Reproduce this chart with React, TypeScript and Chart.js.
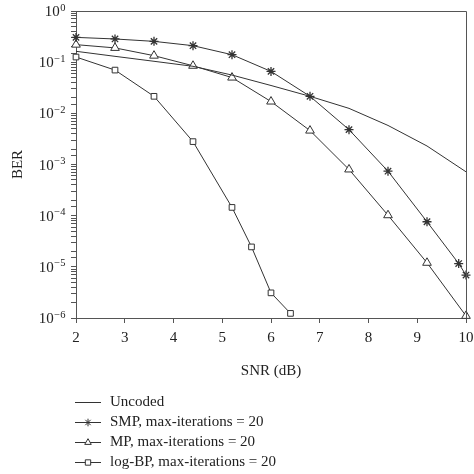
import React, { useEffect, useRef } from 'react';
import { Chart, registerables } from 'chart.js';
Chart.register(...registerables);

const snr = [2, 2.8, 3.6, 4.4, 5.2, 6, 6.8, 7.6, 8.4, 9.2, 10];
const uncoded = [0.163, 0.13, 0.104, 0.083, 0.056, 0.035, 0.0215, 0.0125, 0.0058, 0.0023, 0.00072];
const smpSnr = [2, 2.8, 3.6, 4.4, 5.2, 6, 6.8, 7.6, 8.4, 9.2, 9.85, 10];
const smp = [0.305, 0.284, 0.255, 0.21, 0.14, 0.066, 0.0215, 0.0048, 0.00074, 0.000076, 0.0000116, 0.0000069];
const mpSnr = [2, 2.8, 3.6, 4.4, 5.2, 6, 6.8, 7.6, 8.4, 9.2, 10];
const mp = [0.22, 0.19, 0.134, 0.085, 0.05, 0.017, 0.0046, 0.0008, 0.000102, 0.000012, 0.0000011];
const logBpSnr = [2, 2.8, 3.6, 4.4, 5.2, 5.6, 6, 6.4];
const logBp = [0.126, 0.07, 0.0215, 0.0028, 0.000145, 0.0000245, 0.0000031, 0.00000123];

const seriesNames = ['Uncoded', 'SMP, max-iterations = 20', 'MP, max-iterations = 20', 'log-BP, max-iterations = 20'];
const seriesMarkers = ['none', 'star', 'triangle', 'rect'];
const xTicks = [2, 3, 4, 5, 6, 7, 8, 9, 10];
const yExponents = [0, -1, -2, -3, -4, -5, -6];
const xTitle = 'SNR (dB)';
const yTitle = 'BER';

const LINE = '#333333';
const AXIS = '#555555';
const TEXT = '#222222';
const FONT = "'Liberation Serif', 'DejaVu Serif', serif";

function pts(xs: number[], ys: number[]) {
  return xs.map((x, i) => ({ x, y: ys[i] }));
}

function drawMarker(ctx: CanvasRenderingContext2D, style: string, x: number, y: number, r: number) {
  ctx.beginPath();
  if (style === 'star') {
    ctx.moveTo(x - r, y); ctx.lineTo(x + r, y);
    ctx.moveTo(x, y - r); ctx.lineTo(x, y + r);
    const d = r * Math.SQRT1_2;
    ctx.moveTo(x - d, y - d); ctx.lineTo(x + d, y + d);
    ctx.moveTo(x - d, y + d); ctx.lineTo(x + d, y - d);
    ctx.stroke();
  } else if (style === 'triangle') {
    let a = 0;
    ctx.moveTo(x + Math.sin(a) * r, y - Math.cos(a) * r);
    a += (2 * Math.PI) / 3;
    ctx.lineTo(x + Math.sin(a) * r, y - Math.cos(a) * r);
    a += (2 * Math.PI) / 3;
    ctx.lineTo(x + Math.sin(a) * r, y - Math.cos(a) * r);
    ctx.closePath();
    ctx.fill();
    ctx.stroke();
  } else if (style === 'rect') {
    const s = r * Math.SQRT1_2;
    ctx.rect(x - s, y - s, 2 * s, 2 * s);
    ctx.fill();
    ctx.stroke();
  }
}

const framePlugin = {
  id: 'frame',
  afterDraw(chart: any) {
    const { ctx, chartArea } = chart;
    ctx.save();
    ctx.strokeStyle = AXIS;
    ctx.lineWidth = 1;
    ctx.beginPath();
    ctx.moveTo(chartArea.left, chartArea.top + 0.5);
    ctx.lineTo(chartArea.right + 0.5, chartArea.top + 0.5);
    ctx.lineTo(chartArea.right + 0.5, chartArea.bottom);
    ctx.stroke();
    ctx.restore();
  },
};

const yLabelPlugin = {
  id: 'yPowLabels',
  afterDraw(chart: any) {
    const { ctx } = chart;
    const scale = chart.scales.y;
    const right = scale.right - 11;
    ctx.save();
    ctx.fillStyle = TEXT;
    ctx.textBaseline = 'alphabetic';
    ctx.textAlign = 'left';
    yExponents.forEach((e) => {
      const y = scale.getPixelForValue(Math.pow(10, e));
      const exp = e === 0 ? '0' : '\u2212' + String(-e);
      ctx.font = `10.5px ${FONT}`;
      const ew = ctx.measureText(exp).width;
      ctx.font = `15px ${FONT}`;
      const bw = ctx.measureText('10').width;
      const x0 = right - ew - bw;
      const base = y + 5;
      ctx.fillText('10', x0, base);
      ctx.font = `10.5px ${FONT}`;
      ctx.fillText(exp, x0 + bw + 0.5, base - 5.5);
    });
    ctx.restore();
  },
};

const legendPlugin = {
  id: 'customLegend',
  afterDraw(chart: any) {
    const { ctx } = chart;
    ctx.save();
    ctx.font = `15px ${FONT}`;
    ctx.textBaseline = 'middle';
    ctx.textAlign = 'left';
    seriesNames.forEach((name, i) => {
      const y = 402 + i * 20;
      ctx.strokeStyle = LINE;
      ctx.fillStyle = '#ffffff';
      ctx.lineWidth = 1;
      ctx.beginPath();
      ctx.moveTo(75, y + 0.5);
      ctx.lineTo(101, y + 0.5);
      ctx.stroke();
      drawMarker(ctx, seriesMarkers[i], 88, y + 0.5, 3.8);
      ctx.fillStyle = TEXT;
      ctx.fillText(name, 110, y);
    });
    ctx.restore();
  },
};

export default function App() {
  const ref = useRef<HTMLCanvasElement>(null);
  useEffect(() => {
    if (!ref.current) return;
    const common = { borderColor: LINE, borderWidth: 1, pointBorderColor: LINE, pointBackgroundColor: '#ffffff', pointBorderWidth: 1, tension: 0 };
    const chart = new Chart(ref.current, {
      type: 'line',
      data: {
        datasets: [
          { ...common, label: seriesNames[0], data: pts(snr, uncoded), pointRadius: 0 },
          { ...common, label: seriesNames[1], data: pts(smpSnr, smp), pointStyle: 'star', pointRadius: 4.5, pointBorderWidth: 1.3 },
          { ...common, label: seriesNames[2], data: pts(mpSnr, mp), pointStyle: 'triangle', pointRadius: 5 },
          { ...common, label: seriesNames[3], data: pts(logBpSnr, logBp), pointStyle: 'rect', pointRadius: 4 },
        ],
      },
      options: {
        animation: false,
        responsive: false,
        clip: false,
        layout: { padding: { left: 0, right: 8, top: 11, bottom: 94 } },
        plugins: { legend: { display: false }, tooltip: { enabled: false } },
        scales: {
          x: {
            type: 'linear',
            min: 2,
            max: 10,
            afterBuildTicks: (s: any) => { s.ticks = xTicks.map((v) => ({ value: v })); },
            ticks: { color: TEXT, font: { family: FONT, size: 15 }, padding: 6, maxRotation: 0 },
            grid: { drawOnChartArea: false, tickLength: 5, color: AXIS },
            border: { color: AXIS, width: 1 },
            title: { display: true, text: xTitle, color: TEXT, font: { family: FONT, size: 15 }, padding: { top: 0, bottom: 0 } },
            afterFit: (s: any) => { s.height = 62; s.paddingLeft = 0; s.paddingRight = 0; },
          },
          y: {
            type: 'logarithmic',
            min: 1e-6,
            max: 1,
            ticks: {
              autoSkip: false,
              color: TEXT,
              font: { family: FONT, size: 15 },
              padding: 3,
              callback: () => '',
            },
            grid: { drawOnChartArea: false, tickLength: 5, color: AXIS },
            border: { color: AXIS, width: 1 },
            title: { display: true, text: yTitle, color: TEXT, font: { family: FONT, size: 15 }, padding: { top: 9, bottom: 0 } },
            afterFit: (s: any) => { s.width = 76; s.paddingTop = 0; s.paddingBottom = 0; },
          },
        },
      },
      plugins: [framePlugin, yLabelPlugin, legendPlugin],
    });
    return () => chart.destroy();
  }, []);
  return (
    <div style={{ position: 'fixed', left: 0, top: 0, width: 474, height: 474, background: '#fff' }}>
      <canvas ref={ref} width={474} height={474} style={{ display: 'block' }} />
    </div>
  );
}
